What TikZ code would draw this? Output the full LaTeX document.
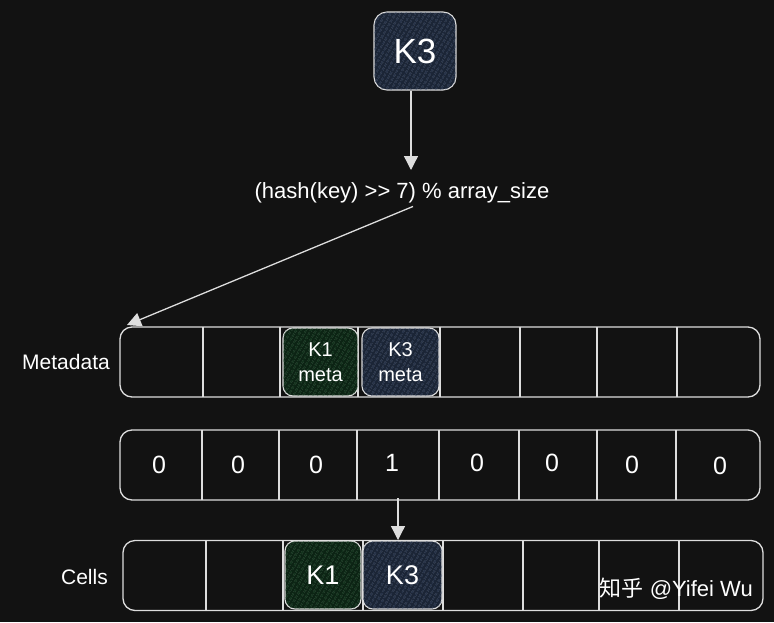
\documentclass[tikz,border=0pt]{standalone}
\usepackage{fontspec}
\setmainfont{Liberation Sans}
\newfontfamily\cjk{Noto Sans CJK SC}
\usetikzlibrary{patterns.meta,arrows.meta}
\definecolor{bg}{HTML}{121212}
\definecolor{fg}{HTML}{DDDDDD}
\definecolor{navy}{HTML}{1B2536}
\definecolor{navyh}{HTML}{3E4E6C}
\definecolor{grn}{HTML}{0C2414}
\definecolor{grnh}{HTML}{22502F}
\tikzset{
  ln/.style={draw=fg, line width=1.3pt},
  rowbox/.style={ln, rounded corners=12pt, minimum width=640pt, minimum height=70pt, inner sep=0pt},
  arr/.style={draw=fg, line width=1.3pt, -{Triangle[length=14pt,width=14pt,fill=fg]}},
  hatchbox/.style 2 args={draw=fg, line width=1.1pt, rounded corners=10pt, fill=#1, inner sep=0pt,
     postaction={pattern={Lines[angle=60,distance=4pt,line width=0.7pt]}, pattern color=#2}},
  txt/.style={text=white, inner sep=0pt},
  digit/.style={txt, font=\fontsize{25}{25}\selectfont, minimum width=80pt, minimum height=70pt},
  label/.style={txt, font=\fontsize{21}{21}\selectfont, anchor=east}
}
\begin{document}
\begin{tikzpicture}[x=1pt,y=-1pt]
\fill[bg] (0,0) rectangle (774,622);
\useasboundingbox (0,0) rectangle (774,622);

% top key box
\node[hatchbox={navy}{navyh}, rounded corners=13pt, minimum width=82pt, minimum height=78pt,
      font=\fontsize{35}{35}\selectfont, text=white] (top) at (415,51) {K3};

% formula
\node[txt, font=\fontsize{22}{22}\selectfont] (formula) at (402,193) {(hash(key) >{}> 7) \% array\_size};

% metadata row
\node[rowbox] (meta) at (440,362) {};
\foreach \x in {203,280,358,440,520,597,677} \draw[ln] (\x,327) -- (\x,397);
\node[hatchbox={grn}{grnh}, minimum width=75pt, minimum height=68pt, text=white,
      align=center, font=\fontsize{20}{25}\selectfont] (mk1) at (320.5,362) {K1\\meta};
\node[hatchbox={navy}{navyh}, minimum width=77pt, minimum height=68pt, text=white,
      align=center, font=\fontsize{20}{25}\selectfont] (mk3) at (400.5,362) {K3\\meta};
\coordinate (metahit) at (127,325);
\node[label] (metalabel) at (110,362) {Metadata};

% bits row
\node[rowbox] (bits) at (440,465) {};
\foreach \x in {202,279,357,439,519,597,676} \draw[ln] (\x,430) -- (\x,500);
\node[digit] (b1) at (159,465) {0};
\node[digit] (b2) at (238,465) {0};
\node[digit] (b3) at (316,465) {0};
\node[digit] (b4) at (392,463) {1};
\node[digit] (b5) at (477,463) {0};
\node[digit] (b6) at (552,463) {0};
\node[digit] (b7) at (632,465) {0};
\node[digit] (b8) at (720,466) {0};

% cells row
\node[rowbox] (cells) at (443,575.5) {};
\foreach \x in {206,283,363,443,523,599,679} \draw[ln] (\x,540.5) -- (\x,610.5);
\node[hatchbox={grn}{grnh}, minimum width=76pt, minimum height=68pt, text=white,
      font=\fontsize{27}{27}\selectfont] (ck1) at (323,575) {K1};
\node[hatchbox={navy}{navyh}, minimum width=79pt, minimum height=68pt, text=white,
      font=\fontsize{27}{27}\selectfont] (ck3) at (402.5,575) {K3};
\node[label] (cellslabel) at (108,577) {Cells};

% connectors
\draw[arr] (top.south -| 411,0) -- (411,170);
\draw[arr] ([xshift=11pt,yshift=-3pt]formula.south) -- (metahit);
\draw[arr] (b4.south -| 398,0) -- (398,540);

% watermark
\node[txt, font=\fontsize{22}{22}\selectfont, anchor=east] (wm) at (753,589) {{\cjk 知乎} @Yifei Wu};
\end{tikzpicture}
\end{document}
